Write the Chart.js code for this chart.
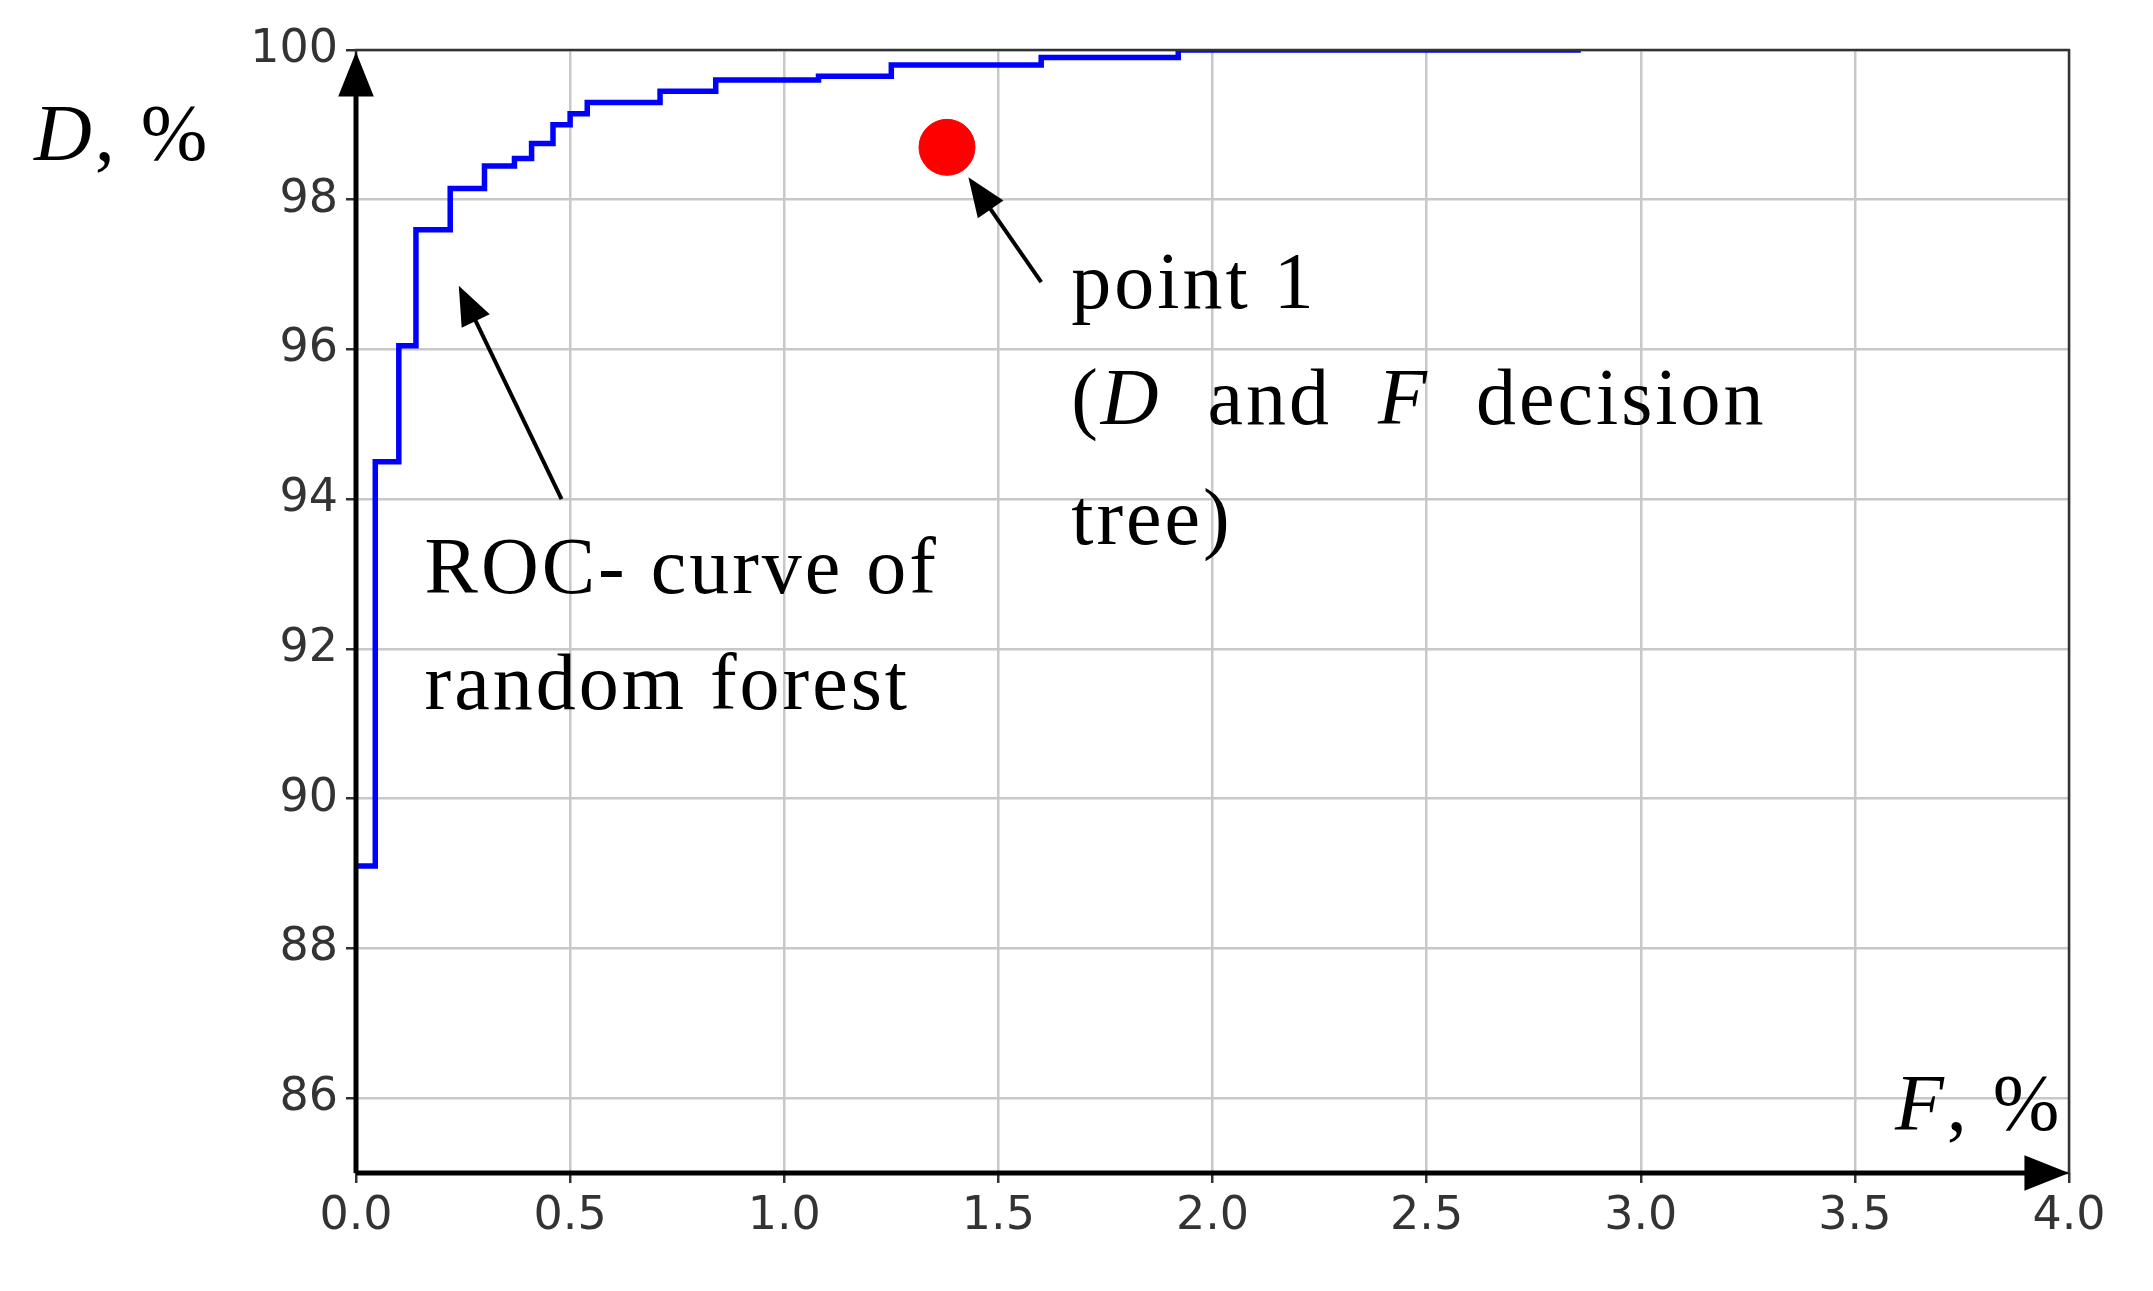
<!DOCTYPE html>
<html><head><meta charset="utf-8">
<script src="https://cdn.jsdelivr.net/npm/chart.js@4"></script>
<style>html,body{margin:0;padding:0;background:#fff}#c{display:block}</style>
</head><body>
<canvas id="c" width="2153" height="1291"></canvas>
<script>
const rocF = [0, 0.045, 0.10, 0.14, 0.22, 0.30, 0.37, 0.41, 0.46, 0.50, 0.54, 0.71, 0.84, 1.08, 1.25, 1.60, 1.92, 2.86];
const rocD = [89.1, 94.5, 96.05, 97.6, 98.15, 98.45, 98.55, 98.75, 99.0, 99.15, 99.3, 99.45, 99.6, 99.65, 99.8, 99.9, 100, 100];
const pointF = [1.38];
const pointD = [98.7];
const yTicks = [86, 88, 90, 92, 94, 96, 98, 100];
const xTicks = [0, 0.5, 1.0, 1.5, 2.0, 2.5, 3.0, 3.5, 4.0];

function arrow(ctx, x1, y1, x2, y2, head, w) {
  const a = Math.atan2(y2 - y1, x2 - x1);
  ctx.beginPath(); ctx.moveTo(x1, y1);
  ctx.lineTo(x2 - Math.cos(a) * head * 0.8, y2 - Math.sin(a) * head * 0.8);
  ctx.lineWidth = w; ctx.stroke();
  ctx.beginPath(); ctx.moveTo(x2, y2);
  ctx.lineTo(x2 - head * Math.cos(a - 0.38), y2 - head * Math.sin(a - 0.38));
  ctx.lineTo(x2 - head * Math.cos(a + 0.38), y2 - head * Math.sin(a + 0.38));
  ctx.closePath(); ctx.fill();
}

const deco = {
  id: 'deco',
  afterDatasetsDraw(chart) {
    const {ctx, chartArea: ca, scales: {x, y}} = chart;
    ctx.save();
    ctx.strokeStyle = '#333'; ctx.lineWidth = 2.5;
    ctx.strokeRect(ca.left, ca.top, ca.right - ca.left, ca.bottom - ca.top);
    ctx.strokeStyle = '#000'; ctx.fillStyle = '#000';
    arrow(ctx, ca.left, ca.bottom, ca.left, ca.top + 2, 48, 5);
    arrow(ctx, ca.left, ca.bottom, ca.right, ca.bottom, 48, 5);
    arrow(ctx, x.getPixelForValue(0.48), y.getPixelForValue(94.0), x.getPixelForValue(0.24), y.getPixelForValue(96.85), 42, 4);
    arrow(ctx, x.getPixelForValue(1.60), y.getPixelForValue(96.9), x.getPixelForValue(1.43), y.getPixelForValue(98.3), 42, 4);
    ctx.fillStyle = '#000'; ctx.textBaseline = 'alphabetic'; ctx.textAlign = 'left';
    const serif = '"Liberation Serif", "DejaVu Serif", serif';
    const fs = 80;
    ctx.letterSpacing = '3px';
    ctx.font = `${fs}px ${serif}`;
    ctx.fillText('ROC- curve of', x.getPixelForValue(0.16), y.getPixelForValue(92.75));
    ctx.fillText('random forest', x.getPixelForValue(0.16), y.getPixelForValue(91.2));
    ctx.fillText('point 1', x.getPixelForValue(1.67), y.getPixelForValue(96.55));
    ctx.fillText('tree)', x.getPixelForValue(1.67), y.getPixelForValue(93.4));
    let px = x.getPixelForValue(1.67), py = y.getPixelForValue(95.0);
    const parts = [['(', false], ['D', true], ['  and  ', false], ['F', true], ['  decision', false]];
    for (const [t, it] of parts) {
      ctx.font = `${it ? 'italic ' : ''}${fs}px ${serif}`;
      ctx.fillText(t, px, py); px += ctx.measureText(t).width;
    }
    ctx.font = `italic ${fs}px ${serif}`;
    let tx = 34, ty = 160;
    ctx.fillText('D', tx, ty); tx += ctx.measureText('D').width;
    ctx.font = `${fs}px ${serif}`; ctx.fillText(', %', tx, ty);
    ctx.font = `italic ${fs}px ${serif}`;
    tx = 1895; ty = 1130;
    ctx.fillText('F', tx, ty); tx += ctx.measureText('F').width;
    ctx.font = `${fs}px ${serif}`; ctx.fillText(', %', tx, ty);
    ctx.restore();
  }
};

new Chart(document.getElementById('c'), {
  type: 'scatter',
  data: {
    datasets: [
      { data: rocF.map((v, i) => ({x: v, y: rocD[i]})), showLine: true, stepped: 'before',
        borderColor: '#0000ff', borderWidth: 5.5, pointRadius: 0, fill: false },
      { data: pointF.map((v, i) => ({x: v, y: pointD[i]})), pointRadius: 28,
        backgroundColor: '#ff0000', borderColor: '#ff0000' }
    ]
  },
  options: {
    responsive: false, animation: false, devicePixelRatio: 1,
    layout: {padding: {top: 50, right: 84, left: 0, bottom: 0}},
    plugins: {legend: {display: false}, tooltip: {enabled: false}},
    scales: {
      x: { type: 'linear', min: 0, max: 4,
        afterBuildTicks: s => { s.ticks = xTicks.map(v => ({value: v})); },
        afterFit: s => { s.height = 118; },
        grid: {color: '#c8c8c8', lineWidth: 2.5, drawTicks: true, tickLength: 10, tickColor: '#333'},
        border: {display: false},
        ticks: {color: '#333', font: {family: '"DejaVu Sans", sans-serif', size: 46}, padding: 6,
          callback: v => Number(v).toFixed(1), maxRotation: 0}
      },
      y: { type: 'linear', min: 85, max: 100,
        afterBuildTicks: s => { s.ticks = yTicks.map(v => ({value: v})); },
        afterFit: s => { s.width = 356; },
        grid: {color: '#c8c8c8', lineWidth: 2.5, drawTicks: true, tickLength: 10, tickColor: '#333'},
        border: {display: false},
        ticks: {color: '#333', font: {family: '"DejaVu Sans", sans-serif', size: 46}, padding: 8}
      }
    }
  },
  plugins: [deco]
});
</script>
</body></html>
